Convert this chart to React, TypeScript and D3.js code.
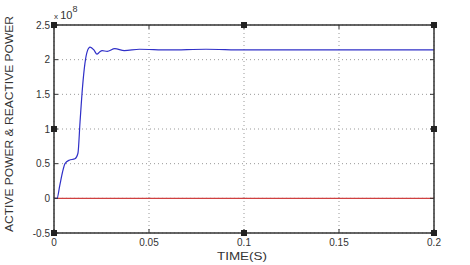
import React from "react";
import * as d3 from "d3";

const activeT = [0, 0.0016, 0.003, 0.0045, 0.0058, 0.008, 0.011, 0.0126, 0.0137, 0.015, 0.0163, 0.0175, 0.019, 0.021, 0.0226, 0.024, 0.0253, 0.028, 0.032, 0.037, 0.045, 0.06, 0.08, 0.1, 0.15, 0.2];
const activeP = [0, 0, 0.18, 0.38, 0.5, 0.55, 0.57, 0.65, 1.1, 1.6, 1.95, 2.12, 2.18, 2.14, 2.08, 2.11, 2.13, 2.12, 2.16, 2.13, 2.15, 2.14, 2.15, 2.14, 2.14, 2.14];
const reactiveT = [0, 0.2];
const reactiveQ = [0, 0];
const xTicks = [0, 0.05, 0.1, 0.15, 0.2];
const xTickLabels = ["0", "0.05", "0.1", "0.15", "0.2"];
const yTicks = [-0.5, 0, 0.5, 1, 1.5, 2, 2.5];
const yTickLabels = ["-0.5", "0", "0.5", "1", "1.5", "2", "2.5"];

export default function App() {
  const W = 470, H = 265;
  const L = 54, R = 434, T = 25, B = 233;
  const x = d3.scaleLinear().domain([0, 0.2]).range([L, R]);
  const y = d3.scaleLinear().domain([-0.5, 2.5]).range([B, T]);
  const line = d3.line<number>().x((_, i) => x(activeT[i])).y(d => y(d)).curve(d3.curveMonotoneX);
  const line2 = d3.line<number>().x((_, i) => x(reactiveT[i])).y(d => y(d));
  const font = "Liberation Sans, Arial, sans-serif";
  const handles = [
    [L, T], [(L + R) / 2, T], [R, T],
    [L, (T + B) / 2], [R, (T + B) / 2],
    [L, B], [(L + R) / 2, B], [R, B],
  ];
  return (
    <svg width={W} height={H} style={{ position: "absolute", left: 0, top: 0, background: "#fff" }}>
      <rect x={0} y={0} width={W} height={H} fill="#fff" />
      {xTicks.map((t, i) => (
        <line key={"gx" + i} x1={x(t)} x2={x(t)} y1={T} y2={B} stroke="#999" strokeDasharray="1,3" strokeWidth={1} />
      ))}
      {yTicks.map((t, i) => (
        <line key={"gy" + i} x1={L} x2={R} y1={y(t)} y2={y(t)} stroke="#999" strokeDasharray="1,3" strokeWidth={1} />
      ))}
      <path d={line2(reactiveQ) || ""} fill="none" stroke="#d04040" strokeWidth={1.2} />
      <path d={line(activeP) || ""} fill="none" stroke="#3030c8" strokeWidth={1.2} />
      <rect x={L} y={T} width={R - L} height={B - T} fill="none" stroke="#333" strokeWidth={1.5} />
      {xTicks.map((t, i) => (
        <g key={"tx" + i}>
          <line x1={x(t)} x2={x(t)} y1={B} y2={B - 4} stroke="#333" />
          <line x1={x(t)} x2={x(t)} y1={T} y2={T + 4} stroke="#333" />
          <text x={x(t)} y={B + 13} textAnchor="middle" fontSize={10} fontFamily={font} fill="#333">{xTickLabels[i]}</text>
        </g>
      ))}
      {yTicks.map((t, i) => (
        <g key={"ty" + i}>
          <line x1={L} x2={L + 4} y1={y(t)} y2={y(t)} stroke="#333" />
          <line x1={R} x2={R - 4} y1={y(t)} y2={y(t)} stroke="#333" />
          <text x={L - 4} y={y(t) + 3.5} textAnchor="end" fontSize={10} fontFamily={font} fill="#333">{yTickLabels[i]}</text>
        </g>
      ))}
      {handles.map(([hx, hy], i) => (
        <rect key={"h" + i} x={hx - 3} y={hy - 3} width={6} height={6} fill="#222" />
      ))}
      <text x={L} y={T - 6} fontSize={11} fontFamily={font} fill="#333"><tspan fontSize={8}>x </tspan>10<tspan dy={-7} fontSize={9}>8</tspan></text>
      <text x={242} y={H - 5} textAnchor="middle" fontSize={11} fontFamily={font} fill="#333" textLength={50} lengthAdjust="spacingAndGlyphs">TIME(S)</text>
      <text transform={`translate(13, 124) rotate(-90)`} textAnchor="middle" fontSize={11} fontFamily={font} fill="#333" textLength={216} lengthAdjust="spacingAndGlyphs">ACTIVE POWER &amp; REACTIVE POWER</text>
    </svg>
  );
}
